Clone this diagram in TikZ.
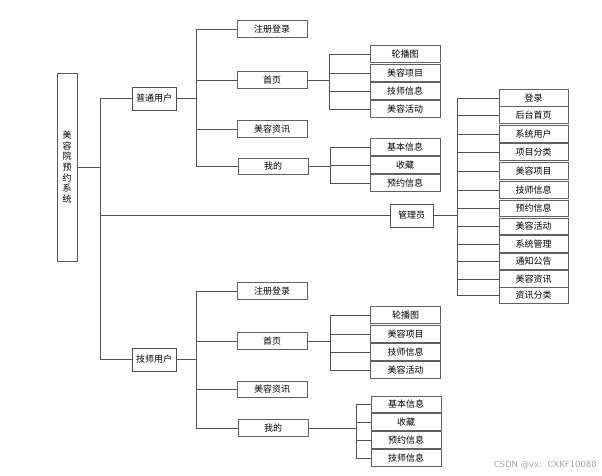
\documentclass[tikz,border=0pt]{standalone}
\usepackage{fontspec}
\setmainfont{Noto Sans CJK SC}
\newfontfamily\wmfont{DejaVu Sans}
\begin{document}
\begin{tikzpicture}[x=1pt,y=-1pt,
  every node/.style={font=\fontsize{9}{10}\selectfont},
  leaf/.style={draw=black!62,line width=0.9pt,minimum width=70pt,minimum height=16.5pt,inner sep=0pt,fill=white},
  mid/.style={draw=black!70,line width=0.9pt,minimum width=44pt,minimum height=23pt,inner sep=0pt,fill=white},
  link/.style={draw=black!68,line width=0.8pt}]
\useasboundingbox (0,0) rectangle (602,476);
% root
\node[draw=black!65,line width=0.9pt,minimum width=20pt,minimum height=188pt,inner sep=0pt,align=center,font=\fontsize{9}{10.6}\selectfont] (root) at (67,167) {美\\容\\院\\预\\约\\系\\统};
\node[mid] (u1) at (154,98.5) {普通用户};
\node[mid] (u2) at (154,359.5) {技师用户};
\node[mid,minimum width=43pt] (adm) at (411.5,215.5) {管理员};
% trunks
\coordinate (t0) at (100,0);
\coordinate (t1) at (196,0);
\coordinate (t2) at (329,0);
\coordinate (t3) at (330,0);
\coordinate (t4) at (457,0);
\coordinate (t5) at (196,0);
\coordinate (t6) at (330,0);
\coordinate (t7) at (356,0);
% upper user
\node[leaf] (a1) at (272,29) {注册登录};
\node[leaf] (a2) at (272,80) {首页};
\node[leaf] (a3) at (272,129) {美容资讯};
\node[leaf] (a4) at (273,166.5) {我的};
\node[leaf] (a21) at (405,54) {轮播图};
\node[leaf] (a22) at (405,73) {美容项目};
\node[leaf] (a23) at (405,91) {技师信息};
\node[leaf] (a24) at (405,109) {美容活动};
\node[leaf] (a41) at (405,147) {基本信息};
\node[leaf] (a42) at (405,165) {收藏};
\node[leaf] (a43) at (405,183) {预约信息};
% admin
\foreach \n/\y/\t in {1/98/登录,2/115/后台首页,3/134/系统用户,4/152/项目分类,5/171/美容项目,6/190/技师信息,7/208.5/预约信息,8/226.5/美容活动,9/244/系统管理,10/261.5/通知公告,11/279/美容资讯,12/295.5/资讯分类}{
  \node[leaf,minimum width=69pt] (m\n) at (533.5,\y) {\t};
  \draw[link] (adm.east) -| (t4 |- m\n.west) -- (m\n.west);
}
% lower user
\node[leaf] (b1) at (272,291) {注册登录};
\node[leaf] (b2) at (272,341) {首页};
\node[leaf] (b3) at (272,389.5) {美容资讯};
\node[leaf] (b4) at (273,428) {我的};
\node[leaf] (b21) at (405.5,315) {轮播图};
\node[leaf] (b22) at (405.5,334) {美容项目};
\node[leaf] (b23) at (405.5,352) {技师信息};
\node[leaf] (b24) at (405.5,370) {美容活动};
\node[leaf] (b41) at (406,404.5) {基本信息};
\node[leaf] (b42) at (406,422) {收藏};
\node[leaf] (b43) at (406,440) {预约信息};
\node[leaf] (b44) at (406,458) {技师信息};
% connectors
\foreach \c in {u1,u2,adm}{\draw[link] (root.east) -| (t0 |- \c.west) -- (\c.west);}
\foreach \c in {a1,a2,a3,a4}{\draw[link] (u1.east) -| (t1 |- \c.west) -- (\c.west);}
\foreach \c in {a21,a22,a23,a24}{\draw[link] (a2.east) -| (t2 |- \c.west) -- (\c.west);}
\foreach \c in {a41,a42,a43}{\draw[link] (a4.east) -| (t3 |- \c.west) -- (\c.west);}
\foreach \c in {b1,b2,b3,b4}{\draw[link] (u2.east) -| (t5 |- \c.west) -- (\c.west);}
\foreach \c in {b21,b22,b23,b24}{\draw[link] (b2.east) -| (t6 |- \c.west) -- (\c.west);}
\foreach \c in {b41,b42,b43,b44}{\draw[link] (b4.east) -| (t7 |- \c.west) -- (\c.west);}
% watermark
\node[text=black!35,font=\wmfont\fontsize{8.5}{9}\selectfont,anchor=east,inner sep=0pt] (wm) at (597,465) {CSDN @vx:\ \ CXKF10088};
\end{tikzpicture}
\end{document}
